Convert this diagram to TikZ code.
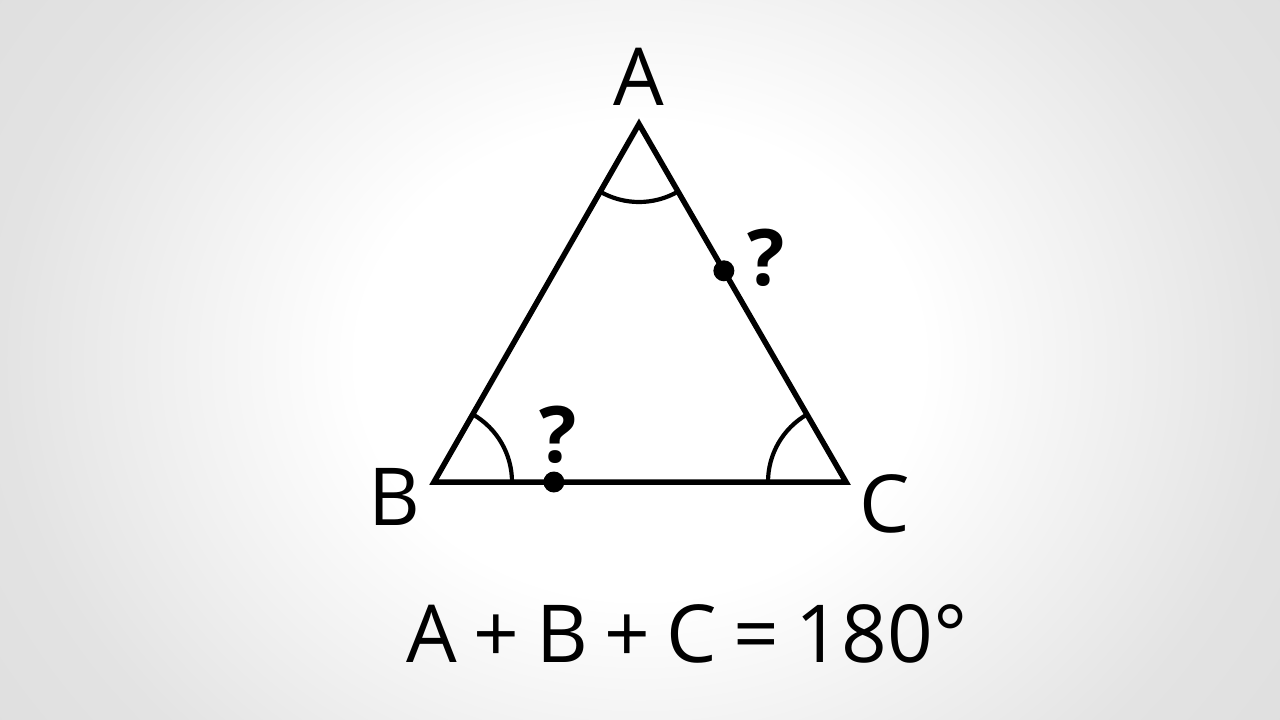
\documentclass[tikz,border=0pt]{standalone}
\usepackage{fontspec}
\setmainfont{Open Sans}
\usetikzlibrary{calc}
\pgfdeclareradialshading{bgshade}{\pgfpoint{0bp}{0bp}}{color(0bp)=(white); color(11bp)=(white); color(25bp)=(black!11); color(36bp)=(black!14); color(50bp)=(black!14)}
\tikzset{
  edge/.style={line width=5.5pt, line join=miter},
  anglearc/.style={line width=4.2pt},
  dotmark/.style={circle, fill=black, inner sep=0pt, minimum size=21pt},
  vlabel/.style={font=\fontsize{80}{80}\selectfont, inner sep=0pt, anchor=base},
  qlabel/.style={font=\fontsize{78}{78}\bfseries\selectfont, inner sep=0pt, anchor=base},
}
\newcommand{\eqsp}{\hspace{16.5pt}}
\begin{document}
\begin{tikzpicture}[x=1pt,y=-1pt]
\useasboundingbox (0,0) rectangle (1280,720);
\begin{scope}
\clip (0,0) rectangle (1280,720);
\shade[shading=bgshade] (0,-180) rectangle (1280,900);
\end{scope}
\coordinate (A) at (639,124);
\coordinate (B) at (434,482);
\coordinate (C) at (846,482);
\draw[edge] (A) -- (B) -- (C) -- cycle;
% angle arcs
\draw[anglearc] ($(A)+(120:78)$) arc[start angle=120, end angle=60, radius=78];
\draw[anglearc] ($(B)+(0:78)$) arc[start angle=0, end angle=-60, radius=78];
\draw[anglearc] ($(C)+(180:78)$) arc[start angle=180, end angle=240, radius=78];
% points
\node[dotmark] (p1) at ($(A)!0.41!(C)$) {};
\node[dotmark] (p2) at ($(B)!0.291!(C)$) {};
\node[qlabel] (q1) at (766,285) {?};
\node[qlabel] (q2) at (558,462) {?};
% labels
\node[vlabel] (la) at (639,105) {A};
\node[vlabel] (lb) at (394,525) {B};
\node[vlabel] (lc) at (885,532) {C};
\node[vlabel] (eq) at (687,662) {A\eqsp+\eqsp B\eqsp+\eqsp C\eqsp=\eqsp180°};
\end{tikzpicture}
\end{document}
